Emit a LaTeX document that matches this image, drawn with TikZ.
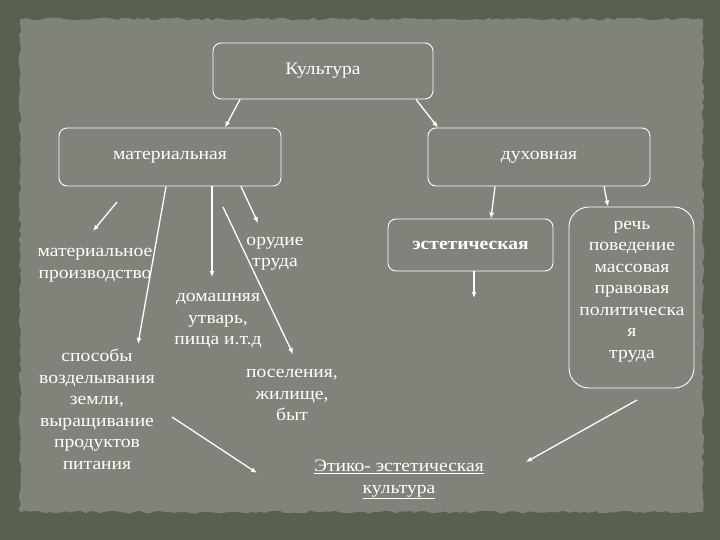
\documentclass[tikz,border=0pt]{standalone}
\usepackage{fontspec}
\setmainfont[FakeStretch=1.12]{Liberation Serif}
\usetikzlibrary{arrows.meta,decorations.pathmorphing}

\definecolor{frame}{HTML}{586050}
\definecolor{paper}{HTML}{80837A}

\tikzset{
  box/.style={draw=white, rounded corners=8pt, line width=0.9pt},
  lbl/.style={text=white, align=center, font=\fontsize{17.5}{21.5}\selectfont},
  arr/.style={white, line width=1.3pt, -{Latex[length=6pt,width=5pt]}},
}

\begin{document}
\begin{tikzpicture}[x=1pt, y=-1pt]
\useasboundingbox (0,0) rectangle (720,540);
\fill[frame] (0,0) rectangle (720,540);
\fill[paper, decorate, decoration={random steps, segment length=5pt, amplitude=1.5pt}] (20,19) rectangle (703,512);

% top level
\node[box, lbl, minimum width=220pt, minimum height=56pt] (kult) at (323,71) {Культура};
\node[box, lbl, minimum width=222pt, minimum height=58pt] (mat) at (170,157) {материальная};
\node[box, lbl, minimum width=222pt, minimum height=58pt] (dukh) at (539,157) {духовная};

% material side
\node[lbl] (matprod) at (95,265) {материальное\\производство};
\node[lbl] (orud) at (275,254) {орудие\\труда};
\node[lbl] (domash) at (218,321) {домашняя\\утварь,\\пища и.т.д};
\node[lbl] (sposob) at (97,409.5) {способы\\возделывания\\земли,\\выращивание\\продуктов\\питания};
\node[lbl] (posel) at (292,395) {поселения,\\жилище,\\быт};

% spiritual side
\node[box, lbl, font=\fontsize{17.5}{21.5}\selectfont\bfseries, minimum width=165pt, minimum height=52pt] (estet) at (470.5,245) {эстетическая};
\node[box, rounded corners=20pt, minimum width=125pt, minimum height=181pt] (rbox) at (631.5,297.5) {};
\node[lbl] (rlist) at (632,291.5) {речь\\поведение\\массовая\\правовая\\политическа\\я\\труда};

\node[lbl] (etiko) at (399,479.5) {\underline{Этико- эстетическая}\\\underline{культура}};

% free arrow ends
\coordinate (prodtail) at (117,202);
\coordinate (prodtip) at (93,231);
\coordinate (sposobtip) at (138,344);
\coordinate (domtip) at (212,277);
\coordinate (orudtip) at (258,223);
\coordinate (poseltail) at (223,207);
\coordinate (poseltip) at (293,354);
\coordinate (estettip) at (474,298);
\coordinate (lefttail) at (172,417);
\coordinate (lefttip) at (257,473);
\coordinate (righttail) at (637,400);
\coordinate (righttip) at (526,462);

\draw[arr] ([xshift=-83pt]kult.south) -- ([xshift=55pt]mat.north);
\draw[arr] ([xshift=93pt]kult.south) -- ([xshift=-101pt]dukh.north);
\draw[arr] (prodtail) -- (prodtip);
\draw[arr] ([xshift=-4pt]mat.south) -- (sposobtip);
\draw[arr] ([xshift=42pt]mat.south) -- (domtip);
\draw[arr] ([xshift=71pt]mat.south) -- (orudtip);
\draw[arr] (poseltail) -- (poseltip);
\draw[arr] ([xshift=-44pt]dukh.south) -- ([xshift=20.5pt]estet.north);
\draw[arr] ([xshift=65pt]dukh.south) -- ([xshift=-23.5pt]rbox.north);
\draw[arr] ([xshift=3.5pt]estet.south) -- (estettip);
\draw[arr] (lefttail) -- (lefttip);
\draw[arr] (righttail) -- (righttip);
\end{tikzpicture}
\end{document}
